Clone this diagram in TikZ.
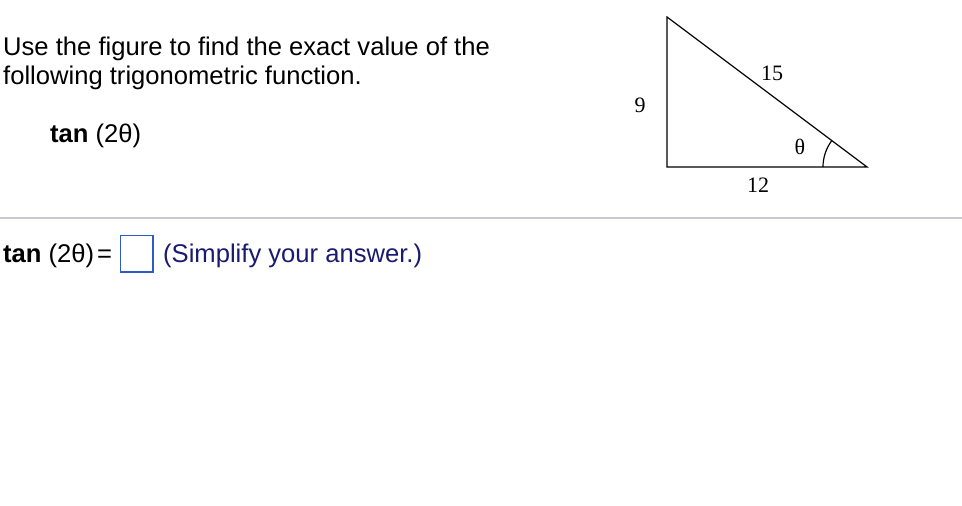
\documentclass[tikz,border=0pt]{standalone}
\usepackage{fontspec}
\setmainfont{Liberation Sans}
\newfontfamily\serifff{Liberation Serif}
\definecolor{navy}{HTML}{1A1A6E}
\definecolor{boxblue}{HTML}{2D5BC8}
\definecolor{rulegray}{HTML}{C8C8D2}
\begin{document}
\begin{tikzpicture}[x=1pt,y=-1pt,
  txt/.style={anchor=base west,inner sep=0pt,font=\fontsize{25.6}{29}\selectfont},
  lbl/.style={anchor=base,inner sep=0pt,font=\serifff\fontsize{22}{26}\selectfont}]
\useasboundingbox (0,0) rectangle (962,506);
\node[txt] (l1) at (3,55.5) {Use the figure to find the exact value of the};
\node[txt] (l2) at (3,84) {following trigonometric function.};
\node[txt] (q) at (50,142) {\textbf{tan} (2θ)};
\draw[rulegray,line width=1.3pt] (0,218) -- (962,218);
\node[txt] (a) at (3,262) {\textbf{tan} (2θ)};
\node[txt] (eq) at (97,262) {=};
\draw[boxblue,line width=1.2pt] (120.5,235.5) rectangle (153,272);
\node[txt,text=navy] (s) at (163,262) {(Simplify your answer.)};
% triangle
\coordinate (A) at (667,17);
\coordinate (B) at (667,167);
\coordinate (C) at (867,167);
\draw[line width=1.2pt,line join=miter] (A) -- (B) -- (C) -- cycle;
\draw[line width=1.2pt] ([shift={(180:44)}]C) arc[start angle=180,end angle=216.87,radius=44];
\node[lbl] (n15) at (772,80) {15};
\node[lbl] (n9) at (640,112) {9};
\node[lbl] (nt) at (800,154) {θ};
\node[lbl] (n12) at (758,192) {12};
\end{tikzpicture}
\end{document}
